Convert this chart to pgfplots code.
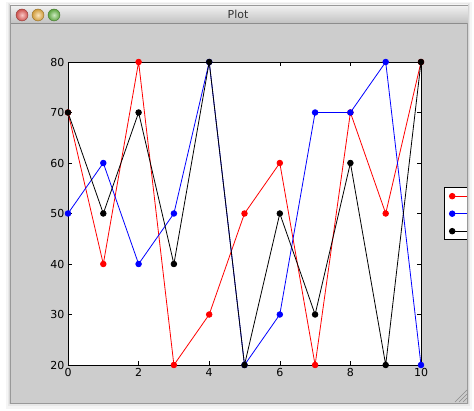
\documentclass[border=0pt]{standalone}
\usepackage{fontspec}
\setmainfont{DejaVu Sans}
\usepackage{pgfplots}
\pgfplotsset{compat=1.18}
\definecolor{winbody}{HTML}{CDCDCD}
\definecolor{mplred}{HTML}{FF0000}
\definecolor{mplblue}{HTML}{0000FF}
\definecolor{lightred}{HTML}{F0605A}
\definecolor{lightorange}{HTML}{F2B544}
\definecolor{lightgreen}{HTML}{6CC04A}
\begin{document}
\begin{tikzpicture}[x=1pt,y=1pt]
% page and window shadow
\fill[white] (0,0) rectangle (474,410);
\fill[black!4] (6,1) rectangle (472,408);
\fill[black!9] (8,4) rectangle (470,407);
\fill[black!16] (9,6) rectangle (469,406);
% window body and title bar
\fill[winbody] (10,7) rectangle (468,387);
\shade[top color=black!5, bottom color=black!24] (10,387) rectangle (468,405);
\draw[black!45, line width=0.8pt] (10,387) -- (468,387);
\draw[black!40] (10,7) rectangle (468,405);
\node[font=\fontsize{11}{13}\selectfont, text=black!80] at (238,395.5) {Plot};
\foreach \c/\x in {lightred/22, lightorange/38, lightgreen/54} {
  \shade[inner color=\c!35!white, outer color=\c!85!black] (\x,395) circle (6);
  \draw[\c!60!black, line width=0.4pt] (\x,395) circle (6);
}
\begin{axis}[
    at={(68pt,45pt)}, anchor=south west,
    width=353pt, height=303pt, scale only axis,
    xmin=0, xmax=10, ymin=20, ymax=80,
    xtick={0,2,...,10}, ytick={20,30,...,80},
    tick align=inside, tick pos=both,
    xticklabel pos=lower, yticklabel pos=left,
    major tick length=4pt,
    tick style={black, line width=0.5pt},
    axis line style={black, line width=0.9pt},
    axis background/.style={fill=white},
    ticklabel style={font=\fontsize{11}{13}\selectfont},
    /pgf/number format/assume math mode=true,
    every axis plot/.append style={line width=0.8pt, mark=*, mark size=2.8pt},
    legend style={at={(1.065,0.5875)}, anchor=north west, draw=black,
      line width=0.9pt, fill=white, inner xsep=5pt, inner ysep=0pt, row sep=0pt,
      nodes={inner sep=0pt, minimum height=17.5pt, anchor=center}},
    legend image code/.code={\draw[#1, mark repeat=2, mark phase=1]
      plot coordinates {(0pt,0pt) (14pt,0pt) (28pt,0pt)};},
]
\addplot[color=mplred, mark options={fill=mplred}] coordinates {
  (0,70) (1,40) (2,80) (3,20) (4,30) (5,50) (6,60) (7,20) (8,70) (9,50) (10,80)};
\addlegendentry{}
\addplot[color=mplblue, mark options={fill=mplblue}] coordinates {
  (0,50) (1,60) (2,40) (3,50) (4,80) (5,20) (6,30) (7,70) (8,70) (9,80) (10,20)};
\addlegendentry{}
\addplot[color=black, mark options={fill=black}] coordinates {
  (0,70) (1,50) (2,70) (3,40) (4,80) (5,20) (6,50) (7,30) (8,60) (9,20) (10,80)};
\addlegendentry{}
\end{axis}
% window clips the legend on the right
\fill[black!16] (467.6,6) rectangle (469,406);
\fill[black!9] (469,4) rectangle (470,407);
\fill[black!4] (470,1) rectangle (472,408);
\fill[white] (472,0) rectangle (520,410);
\draw[black!40] (467.6,7) -- (467.6,387);
% resize grip
\foreach \d in {4,8,12}
  \draw[black!45, line width=0.5pt] (467-\d,8) -- (467,8+\d);
\pgfresetboundingbox
\path (0,0) rectangle (474,410);
\end{tikzpicture}
\end{document}
